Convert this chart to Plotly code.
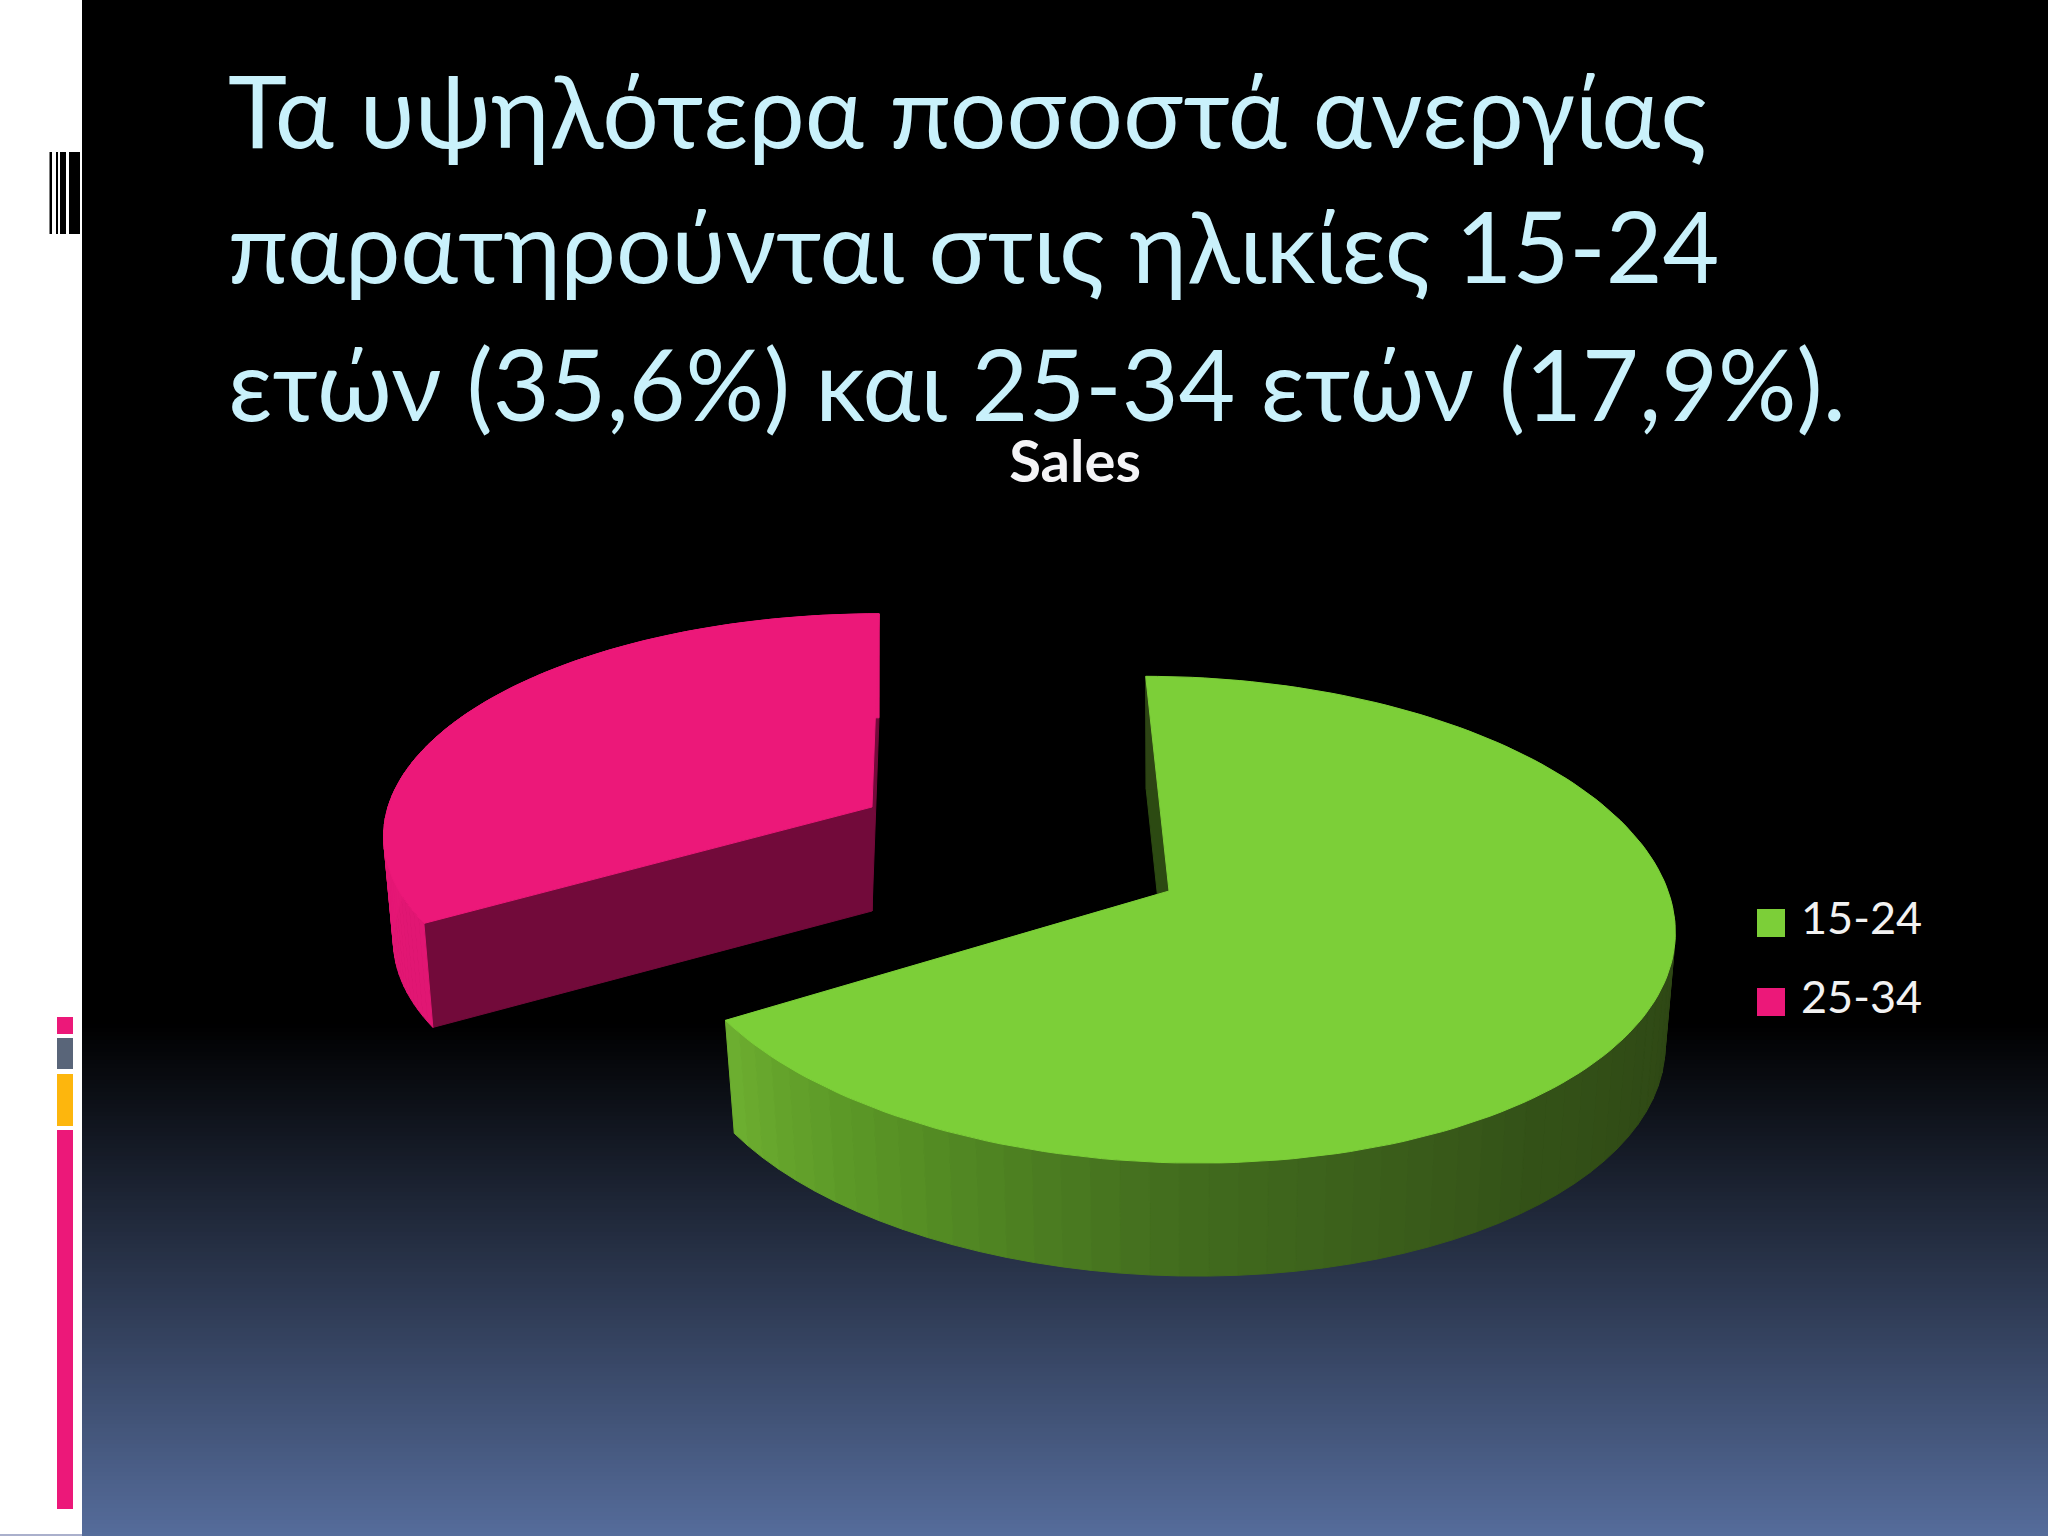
import numpy as np
import plotly.graph_objects as go

# Data
categories = ['15-24', '25-34']
values = [35.6, 17.9]
title_lines = ['Τα υψηλότερα ποσοστά ανεργίας',
               'παρατηρούνται στις ηλικίες 15-24',
               'ετών (35,6%) και 25-34 ετών (17,9%).']
chart_title = 'Sales'

GREEN = '#7ccf38'
PINK = '#ec1879'
PINK_WALL = '#720a3a'
GREEN_INNER = '#2c4a12'
TITLE_COLOR = '#c9f1fb'
WIDTH, HEIGHT = 2048, 1536
STRIP = 82

GREEN_GEO = dict(cx=1169, cy=891, a=499, b=240, depth=113, shear=26)
PINK_GEO = dict(cx=872, cy=807, a=484, b=216, depth=104, shear=-8)
PERSPECTIVE = 0.118


def project(angle, geo, r=1.0):
    # angle in degrees, clockwise from the top of the pie
    u = r * np.sin(np.radians(angle))
    v = -r * np.cos(np.radians(angle))
    p = 1 / (1 - PERSPECTIVE * v)
    return geo['cx'] + (geo['a'] * u + geo['shear'] * v) * p, geo['cy'] + geo['b'] * v * p


def lower(x, y, geo):
    return geo['cx'] + (x - geo['cx']) * 0.98, y + geo['depth']


def poly(xs, ys, color):
    return go.Scatter(x=list(xs), y=list(ys), fill='toself', fillcolor=color, mode='lines',
                      line=dict(color=color, width=1), hoverinfo='skip', showlegend=False)


def mix(stops, t):
    rgb = [np.interp(t, [s[0] for s in stops], [s[1][i] for s in stops]) for i in range(3)]
    return 'rgb(%d,%d,%d)' % tuple(rgb)


def slice_traces(start, end, geo, top_color, inner_color, wall_stops):
    traces = []
    # inner walls first, the top face covers what is hidden
    for ang in [start, end]:
        x0, y0 = project(ang, geo)
        x1, y1 = lower(x0, y0, geo)
        cx, cy = geo['cx'], geo['cy']
        traces.append(poly([x0, cx, cx, x1, x0], [y0, cy, cy + geo['depth'], y1, y0], inner_color))
    # outer wall as small quads so the shading can change along the arc
    angles = np.linspace(start, end, 80)
    for a0, a1 in zip(angles[:-1], angles[1:]):
        x0, y0 = project(a0, geo)
        x1, y1 = project(a1, geo)
        x2, y2 = lower(x1, y1, geo)
        x3, y3 = lower(x0, y0, geo)
        traces.append(poly([x0, x1, x2, x3, x0], [y0, y1, y2, y3, y0], mix(wall_stops, a0)))
    arc = [project(a, geo) for a in np.linspace(start, end, 160)]
    xs = [geo['cx']] + [p[0] for p in arc] + [geo['cx']]
    ys = [geo['cy']] + [p[1] for p in arc] + [geo['cy']]
    traces.append(poly(xs, ys, top_color))
    return traces


sweeps = [360 * v / sum(values) for v in values]
green_wall = [(90, (45, 68, 20)), (140, (52, 82, 24)), (180, (66, 108, 30)), (215, (90, 150, 38)), (240, (112, 178, 50))]
pink_wall = [(240, (225, 22, 115)), (300, (234, 24, 120))]

fig = go.Figure()
for trace in slice_traces(sweeps[0], 360, PINK_GEO, PINK, PINK_WALL, pink_wall):
    fig.add_trace(trace)
for trace in slice_traces(0, sweeps[0], GREEN_GEO, GREEN, GREEN_INNER, green_wall):
    fig.add_trace(trace)

# legend
legend_colors = [GREEN, PINK]
legend_y = [923, 1002]
for cat, col, ly in zip(categories, legend_colors, legend_y):
    fig.add_trace(go.Scatter(x=[1771], y=[ly], mode='markers+text', text=[' ' + cat], textposition='middle right',
                             marker=dict(color=col, size=28, symbol='square'),
                             textfont=dict(family='Lato', size=45, color='#f2f2f2'),
                             hoverinfo='skip', showlegend=False))

shapes = []
# background gradient, black down to about y=1020
for y0 in range(1020, HEIGHT, 4):
    t = (y0 - 1020) / (HEIGHT - 1020)
    c = 'rgb(%d,%d,%d)' % (86 * t, 109 * t, 156 * t)
    shapes.append(dict(type='rect', x0=STRIP, x1=WIDTH, y0=y0, y1=y0 + 4, fillcolor=c, line_width=0, layer='below'))
shapes.append(dict(type='rect', x0=0, x1=STRIP, y0=0, y1=HEIGHT, fillcolor='white', line_width=0, layer='below'))
# barcode decoration
for x0, x1 in [(49.5, 52), (56, 58), (60, 66), (69, 80)]:
    shapes.append(dict(type='rect', x0=x0, x1=x1, y0=152, y1=234, fillcolor='black', line_width=0, layer='below'))
# colour strips at lower left
for y0, y1, col in [(1017, 1034, PINK), (1038, 1069, '#596579'), (1074, 1126, '#fdb60d'), (1130, 1509, PINK)]:
    shapes.append(dict(type='rect', x0=57, x1=73, y0=y0, y1=y1, fillcolor=col, line_width=0, layer='below'))
shapes.append(dict(type='rect', x0=0, x1=STRIP, y0=1534, y1=1536, fillcolor='#aab0cc', line_width=0, layer='below'))

annotations = []
for line, base, size in zip(title_lines, [109, 245, 383], [100, 98, 98]):
    annotations.append(dict(text=line, x=226, y=base, xref='x', yref='y', xanchor='left', yanchor='middle',
                            showarrow=False, font=dict(family='Lato, Noto Sans', size=size, color=TITLE_COLOR)))

fig.update_layout(
    width=WIDTH, height=HEIGHT, margin=dict(l=0, r=0, t=0, b=0),
    paper_bgcolor='black', plot_bgcolor='rgba(0,0,0,0)',
    title=dict(text='<b>' + chart_title + '</b>', x=1075 / WIDTH, y=1 - 462 / HEIGHT, xanchor='center', yanchor='middle',
               font=dict(family='Lato', size=58, color='#f4f4f6')),
    xaxis=dict(range=[0, WIDTH], visible=False, fixedrange=True),
    yaxis=dict(range=[HEIGHT, 0], visible=False, fixedrange=True),
    shapes=shapes, annotations=annotations, showlegend=False)

fig.write_html("out.html", config=dict(displayModeBar=False),
               post_script="document.body.style.margin='0';document.body.style.overflow='hidden';")
